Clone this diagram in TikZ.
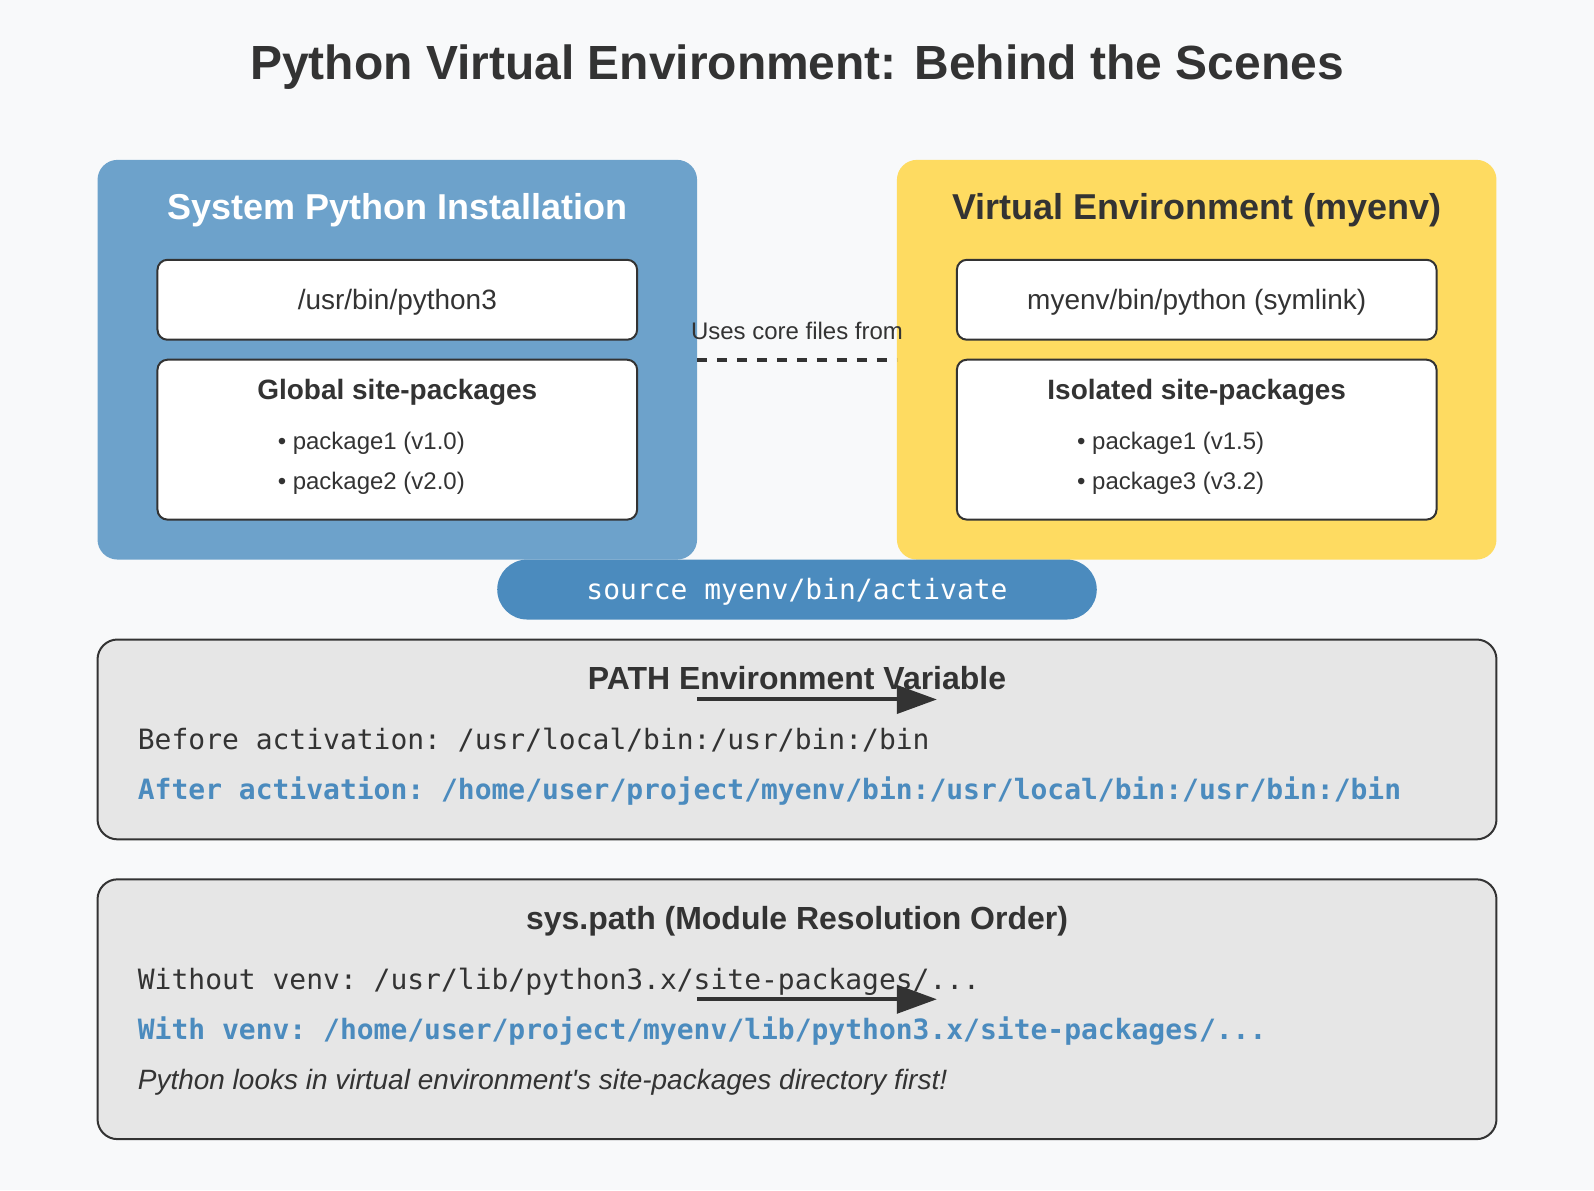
\documentclass[tikz,border=0pt]{standalone}
\usepackage{fontspec}
\setmainfont{Liberation Sans}
\setmonofont{DejaVu Sans Mono}
\newfontfamily\plainsans{Liberation Sans}[Ligatures=TeXOff]
\usetikzlibrary{arrows.meta}
\definecolor{bg}{HTML}{F8F9FA}
\definecolor{txt}{HTML}{333333}
\definecolor{pyblue}{HTML}{4B8BBE}
\definecolor{sysfill}{HTML}{6DA2CB}
\definecolor{venvfill}{HTML}{FEDB61}
\definecolor{panel}{HTML}{E6E6E6}
\newcommand{\fs}[1]{\fontsize{#1}{#1}\selectfont}
\begin{document}
\begin{tikzpicture}[x=1pt,y=-1pt,
  outerbox/.style={rounded corners=10pt, minimum width=300pt, minimum height=200pt, inner sep=0pt, draw=none},
  innerbox/.style={rounded corners=5pt, fill=white, draw=txt, line width=1pt, minimum width=240pt, inner sep=0pt},
  panelbox/.style={rounded corners=10pt, fill=panel, draw=txt, line width=1pt, minimum width=700pt, inner sep=0pt},
  lbl/.style={anchor=base, text=txt, inner sep=0pt},
  lblw/.style={anchor=base west, text=txt, inner sep=0pt},
  arr/.style={draw=txt, line width=2pt, -{Triangle[length=20pt,width=14pt]}},
]
\fill[bg] (1.2,0) rectangle (798.8,595.6);
\useasboundingbox (1.2,0) rectangle (798.8,595.6);

% title
\node[lbl] (title) at (400,40) {\fs{24}\bfseries Python Virtual Environment: Behind the Scenes};

% system python
\node[outerbox, fill=sysfill] (sys) at (200,180) {};
\node[lbl, text=white] (systitle) at (200,110) {\fs{18}\bfseries System Python Installation};
\node[innerbox, minimum height=40pt] (sysbin) at (200,150) {};
\node[lbl] (sysbint) at (200,155) {\fs{14}/usr/bin/python3};
\node[innerbox, minimum height=80pt] (syspkg) at (200,220) {};
\node[lbl] (syspkgt) at (200,200) {\fs{14}\bfseries Global site-packages};
\node[lblw] (sysp1) at (140,225) {\fs{12}• package1 (v1.0)};
\node[lblw] (sysp2) at (140,245) {\fs{12}• package2 (v2.0)};

% virtual env
\node[outerbox, fill=venvfill] (venv) at (600,180) {};
\node[lbl] (venvtitle) at (600,110) {\fs{18}\bfseries Virtual Environment (myenv)};
\node[innerbox, minimum height=40pt] (venvbin) at (600,150) {};
\node[lbl] (venvbint) at (600,155) {\fs{14}myenv/bin/python (symlink)};
\node[innerbox, minimum height=80pt] (venvpkg) at (600,220) {};
\node[lbl] (venvpkgt) at (600,200) {\fs{14}\bfseries Isolated site-packages};
\node[lblw] (venvp1) at (540,225) {\fs{12}• package1 (v1.5)};
\node[lblw] (venvp2) at (540,245) {\fs{12}• package3 (v3.2)};

% dashed link
\coordinate (dl) at (350,180);
\coordinate (dr) at (450,180);
\draw[txt, line width=2pt, dash pattern=on 5pt off 5pt] (dl) -- (dr);
\node[lbl] (uses) at (400,170) {\fs{12}Uses core files from};

% activate pill
\node[fill=pyblue, rounded corners=15pt, minimum width=300pt, minimum height=30pt, inner sep=0pt] (pill) at (400,295) {};
\node[lbl, text=white] (pillt) at (400,300) {\fs{14}\ttfamily source myenv/bin/activate};

% PATH panel
\node[panelbox, minimum height=100pt] (path) at (400,370) {};
\node[lbl] (patht) at (400,345) {\fs{16}\bfseries PATH Environment Variable};
\node[lblw] (before) at (70,375) {\fs{14}\ttfamily Before activation: /usr/local/bin:/usr/bin:/bin};
\node[lblw, text=pyblue] (after) at (70,400) {\fs{14}\ttfamily\bfseries After activation: /home/user/project/myenv/bin:/usr/local/bin:/usr/bin:/bin};
\coordinate (a1s) at (350,350);
\coordinate (a1e) at (470,350);
\draw[arr] (a1s) -- (a1e);

% sys.path panel
\node[panelbox, minimum height=130pt] (sp) at (400,505) {};
\node[lbl] (spt) at (400,465) {\fs{16}\bfseries sys.path (Module Resolution Order)};
\node[lblw] (without) at (70,495) {\fs{14}\ttfamily Without venv: /usr/lib/python3.x/site-packages/...};
\node[lblw, text=pyblue] (with) at (70,520) {\fs{14}\ttfamily\bfseries With venv: /home/user/project/myenv/lib/python3.x/site-packages/...};
\node[lblw] (note) at (70,545) {\fs{14}\plainsans\itshape Python looks in virtual environment's site-packages directory first!};
\coordinate (a2s) at (350,500);
\coordinate (a2e) at (470,500);
\draw[arr] (a2s) -- (a2e);
\end{tikzpicture}
\end{document}
